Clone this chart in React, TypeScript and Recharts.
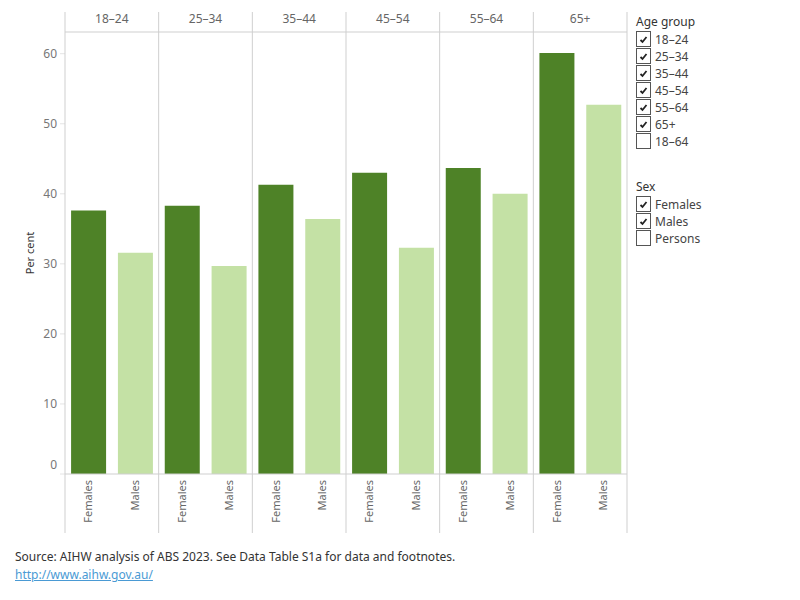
import React from 'react';
import { BarChart, Bar, XAxis, YAxis, Cell } from 'recharts';

const ageGroups = ['18–24', '25–34', '35–44', '45–54', '55–64', '65+'];
const sexes = ['Females', 'Males'];
const femalesPct = [37.6, 38.3, 41.3, 43.0, 43.7, 60.1];
const malesPct = [31.6, 29.7, 36.4, 32.3, 40.0, 52.7];
const yTicks = [0, 10, 20, 30, 40, 50, 60];

const legendAges = ['18–24', '25–34', '35–44', '45–54', '55–64', '65+', '18–64'];
const legendAgesChecked = [true, true, true, true, true, true, false];
const legendSexes = ['Females', 'Males', 'Persons'];
const legendSexesChecked = [true, true, false];

const sexColors: Record<string, string> = { Females: '#4e8227', Males: '#c4e1a5' };

const data = ageGroups.flatMap((age, i) => [
  { key: `${age}|Females`, age, sex: sexes[0], value: femalesPct[i] },
  { key: `${age}|Males`, age, sex: sexes[1], value: malesPct[i] },
]);

const CHART_W = 622;
const CHART_H = 525;
const PLOT_LEFT = 57;
const PLOT_RIGHT = 619;
const BAND = (PLOT_RIGHT - PLOT_LEFT) / data.length;
const FONT = '"Noto Sans", sans-serif';
const GRID = '#cfcfcf';

// bottom tick: rotated sex label, plus the panel separators
function SexTick(props: any) {
  const { x, index, payload } = props;
  const sex = data[index]?.sex ?? String(payload.value).split('|')[1];
  return (
    <g>
      {index % 2 === 0 && (
        <line x1={x - BAND / 2} x2={x - BAND / 2} y1={4} y2={CHART_H} stroke={GRID} strokeWidth={1} />
      )}
      {index === data.length - 1 && (
        <line x1={x + BAND / 2} x2={x + BAND / 2} y1={4} y2={CHART_H} stroke={GRID} strokeWidth={1} />
      )}
      <text
        transform={`translate(${x},${472}) rotate(-90)`}
        textAnchor="end"
        dy="0.35em"
        fontSize={11}
        fontFamily={FONT}
        fill="#666"
      >
        {sex}
      </text>
    </g>
  );
}

function AgeTick(props: any) {
  const { x, index } = props;
  if (index % 2 !== 0) return null;
  return (
    <text x={x + BAND / 2} y={15} textAnchor="middle" fontSize={12} fontFamily={FONT} fill="#666">
      {data[index].age}
    </text>
  );
}

function PctTick(props: any) {
  const { x, y, payload } = props;
  const shift = payload.value === 0 ? -9 : 0;
  return (
    <text x={x} y={y + shift} dy="0.35em" textAnchor="end" fontSize={12} fontFamily={FONT} fill="#777">
      {payload.value}
    </text>
  );
}

function CheckBox({ checked }: { checked: boolean }) {
  return (
    <div
      style={{
        width: 15,
        height: 16,
        border: '1px solid #555',
        boxSizing: 'border-box',
        marginTop: -1,
        background: '#fff',
        display: 'flex',
        alignItems: 'center',
        justifyContent: 'center',
      }}
    >
      {checked && (
        <svg width={9} height={9} viewBox="0 0 9 9">
          <path d="M1.5 5 L3.5 7 L7.5 2" stroke="#222" strokeWidth={1.8} fill="none" />
        </svg>
      )}
    </div>
  );
}

function FilterList({ title, items, checked, top }: { title: string; items: string[]; checked: boolean[]; top: number }) {
  return (
    <div style={{ position: 'absolute', left: 628, top, fontFamily: FONT, fontSize: 12, color: '#333' }}>
      <div style={{ height: 16, lineHeight: '16px' }}>{title}</div>
      <div style={{ marginTop: 1 }}>
        {items.map((item, i) => (
          <div key={item} style={{ display: 'flex', alignItems: 'center', height: 17 }}>
            <CheckBox checked={checked[i]} />
            <span style={{ marginLeft: 4, color: '#444' }}>{item}</span>
          </div>
        ))}
      </div>
    </div>
  );
}

export default function App() {
  return (
    <div style={{ position: 'relative', width: 784, height: 584, fontFamily: FONT }}>
      <BarChart
        width={CHART_W}
        height={CHART_H}
        data={data}
        margin={{ top: 4, right: CHART_W - PLOT_RIGHT, left: 0, bottom: 0 }}
        barCategoryGap="13%"
      >
        <XAxis
          xAxisId="top"
          orientation="top"
          dataKey="key"
          height={20}
          interval={0}
          tickLine={false}
          axisLine={{ stroke: GRID }}
          tick={<AgeTick />}
        />
        <XAxis
          dataKey="key"
          height={59}
          interval={0}
          tickLine={false}
          axisLine={{ stroke: GRID }}
          tick={<SexTick />}
        />
        <YAxis
          width={PLOT_LEFT}
          domain={[0, 63.1]}
          ticks={yTicks}
          interval={0}
          axisLine={false}
          tickSize={5}
          tickMargin={3}
          tickLine={{ stroke: '#e4e4e4' }}
          tick={<PctTick />}
          label={{
            value: 'Per cent',
            angle: -90,
            position: 'insideLeft',
            offset: 22,
            style: { fontSize: 11, fontFamily: FONT, fill: '#333', textAnchor: 'middle' },
          }}
        />
        <Bar dataKey="value" isAnimationActive={false}>
          {data.map((d) => (
            <Cell key={d.key} fill={sexColors[d.sex]} />
          ))}
        </Bar>
      </BarChart>

      <FilterList title="Age group" items={legendAges} checked={legendAgesChecked} top={6} />
      <FilterList title="Sex" items={legendSexes} checked={legendSexesChecked} top={171} />

      <div style={{ position: 'absolute', left: 7, top: 540, fontSize: 12, color: '#333', lineHeight: '18px' }}>
        <div>Source: AIHW analysis of ABS 2023. See Data Table S1a for data and footnotes.</div>
        <a href="http://www.aihw.gov.au/" style={{ color: '#4a9ad4' }}>
          http://www.aihw.gov.au/
        </a>
      </div>
    </div>
  );
}
